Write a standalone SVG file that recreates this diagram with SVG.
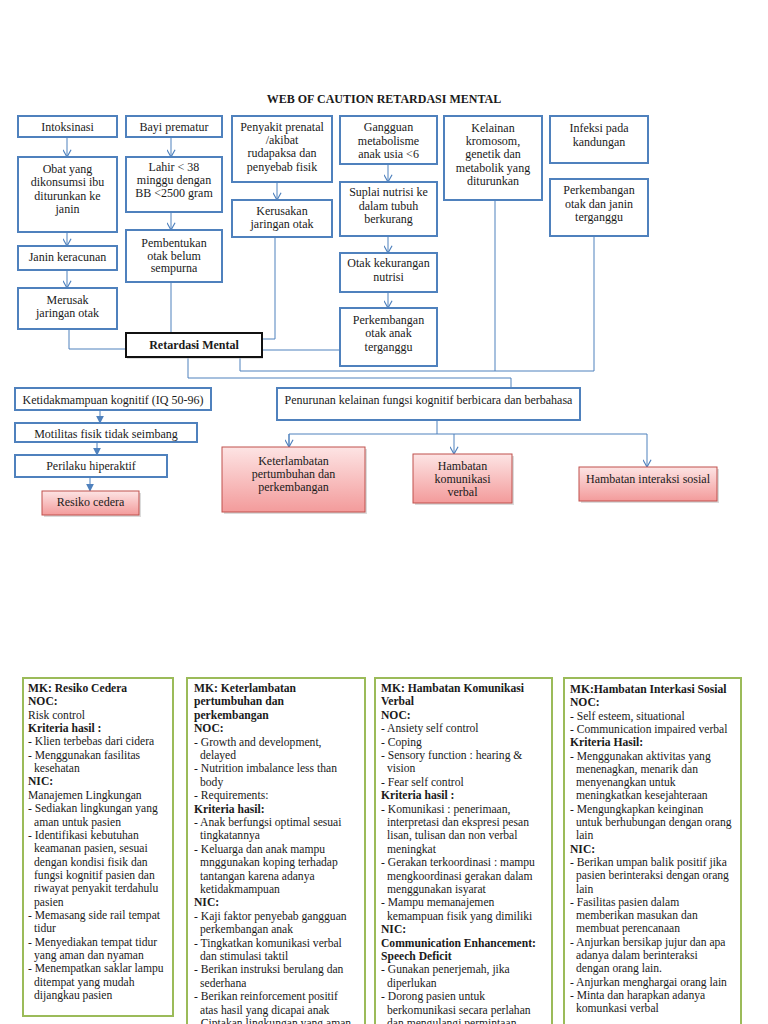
<svg xmlns="http://www.w3.org/2000/svg" width="768" height="1024" viewBox="0 0 768 1024">
<style>
text{font-family:"Liberation Serif","Times New Roman",serif;fill:#1a1a1a}
.t{font-size:12px;text-anchor:middle}
.b{font-weight:bold}
.n rect{fill:#fff;stroke:#4f81bd;stroke-width:2}
.p rect.f{fill:url(#pink);stroke:#c0504d;stroke-width:1}
.p rect.s{fill:#999;opacity:0.35}
.g rect{fill:#fff;stroke:#9bbb59;stroke-width:2}
.g text{font-size:11.6px}
#connectors path{fill:none;stroke:#4f81bd;stroke-width:1}
</style>
<defs>
<linearGradient id="pink" x1="0" y1="0" x2="0" y2="1">
<stop offset="0" stop-color="#fde4e4"/>
<stop offset="1" stop-color="#f39b9b"/>
</linearGradient>
<marker id="op" viewBox="0 0 10 10" refX="9" refY="5" markerWidth="9" markerHeight="9" orient="auto" markerUnits="userSpaceOnUse">
<path d="M1,0.5 L9,5 L1,9.5" fill="none" stroke="#4f81bd" stroke-width="1.3"/>
</marker>
<marker id="fl" viewBox="0 0 10 10" refX="9" refY="5" markerWidth="8" markerHeight="9" orient="auto" markerUnits="userSpaceOnUse">
<path d="M0,0 L10,5 L0,10 z" fill="#4f81bd"/>
</marker>
</defs>
<rect width="768" height="1024" fill="#fff"/>
<text x="384" y="103" class="t b" font-size="11.5">WEB OF CAUTION RETARDASI MENTAL</text>

<g id="connectors">
<path d="M67,137 V157" marker-end="url(#op)"/>
<path d="M67,232 V246" marker-end="url(#op)"/>
<path d="M67,270 V288" marker-end="url(#op)"/>
<path d="M69,329 V349 H126"/>
<path d="M171,137 V157" marker-end="url(#op)"/>
<path d="M171,212 V230" marker-end="url(#op)"/>
<path d="M171,282 V333"/>
<path d="M277,182 V200" marker-end="url(#op)"/>
<path d="M275,237 V339 H262"/>
<path d="M388,164 V182" marker-end="url(#op)"/>
<path d="M388,236 V253" marker-end="url(#op)"/>
<path d="M388,292 V308" marker-end="url(#op)"/>
<path d="M340,350 H262"/>
<path d="M495,200 V371"/>
<path d="M594,236 V371"/>
<path d="M240,357 V371 H594"/>
<path d="M188,357 V378 H511 V388"/>
<path d="M100,410 V423" marker-end="url(#fl)"/>
<path d="M97,442 V455" marker-end="url(#fl)"/>
<path d="M90,477 V491" marker-end="url(#fl)"/>
<path d="M437,420 V434"/>
<path d="M289,447 V434 H647 V467" marker-end="url(#op)"/>
<path d="M289,434 V447" marker-end="url(#op)"/>
<path d="M454,434 V454" marker-end="url(#op)"/>
</g>

<g id="intoksinasi" class="n"><rect x="18" y="116" width="99" height="21"/><text class="t" x="67.5" y="131">Intoksinasi</text></g>
<g id="bayi-prematur" class="n"><rect x="126" y="116" width="96" height="21"/><text class="t" x="174" y="131">Bayi prematur</text></g>
<g id="penyakit-prenatal" class="n"><rect x="232" y="116" width="100" height="66"/><text class="t" x="282" y="131">Penyakit prenatal<tspan x="282" dy="13.2">/akibat</tspan><tspan x="282" dy="13.2">rudapaksa dan</tspan><tspan x="282" dy="13.2">penyebab fisik</tspan></text></g>
<g id="gangguan-metabolisme" class="n"><rect x="340" y="116" width="97" height="48"/><text class="t" x="388.5" y="131">Gangguan<tspan x="388.5" dy="13.5">metabolisme</tspan><tspan x="388.5" dy="13.5">anak usia &lt;6</tspan></text></g>
<g id="kelainan-kromosom" class="n"><rect x="444" y="116" width="98" height="84"/><text class="t" x="493" y="132">Kelainan<tspan x="493" dy="13.2">kromosom,</tspan><tspan x="493" dy="13.2">genetik dan</tspan><tspan x="493" dy="13.2">metabolik yang</tspan><tspan x="493" dy="13.2">diturunkan</tspan></text></g>
<g id="infeksi" class="n"><rect x="550" y="116" width="98" height="47"/><text class="t" x="599" y="132">Infeksi pada<tspan x="599" dy="13.5">kandungan</tspan></text></g>
<g id="perkembangan-otak-janin" class="n"><rect x="550" y="179" width="98" height="57"/><text class="t" x="599" y="194">Perkembangan<tspan x="599" dy="13.5">otak dan janin</tspan><tspan x="599" dy="13.5">terganggu</tspan></text></g>
<g id="obat" class="n"><rect x="18" y="157" width="99" height="75"/><text class="t" x="67.5" y="173">Obat yang<tspan x="67.5" dy="13.3">dikonsumsi ibu</tspan><tspan x="67.5" dy="13.3">diturunkan ke</tspan><tspan x="67.5" dy="13.3">janin</tspan></text></g>
<g id="lahir" class="n"><rect x="126" y="157" width="96" height="55"/><text class="t" x="174" y="171">Lahir &lt; 38<tspan x="174" dy="13">minggu dengan</tspan><tspan x="174" dy="13">BB &lt;2500 gram</tspan></text></g>
<g id="kerusakan" class="n"><rect x="232" y="200" width="100" height="37"/><text class="t" x="282" y="215">Kerusakan<tspan x="282" dy="13">jaringan otak</tspan></text></g>
<g id="suplai" class="n"><rect x="340" y="182" width="97" height="54"/><text class="t" x="388.5" y="196">Suplai nutrisi ke<tspan x="388.5" dy="13.5">dalam tubuh</tspan><tspan x="388.5" dy="13.5">berkurang</tspan></text></g>
<g id="janin-keracunan" class="n"><rect x="18" y="246" width="99" height="24"/><text class="t" x="67.5" y="261">Janin keracunan</text></g>
<g id="pembentukan" class="n"><rect x="126" y="230" width="96" height="52"/><text class="t" x="174" y="247">Pembentukan<tspan x="174" dy="12.7">otak belum</tspan><tspan x="174" dy="12.7">sempurna</tspan></text></g>
<g id="otak-kekurangan" class="n"><rect x="340" y="253" width="97" height="39"/><text class="t" x="388.5" y="267">Otak kekurangan<tspan x="388.5" dy="13.5">nutrisi</tspan></text></g>
<g id="merusak" class="n"><rect x="18" y="288" width="99" height="41"/><text class="t" x="67.5" y="304">Merusak<tspan x="67.5" dy="13">jaringan otak</tspan></text></g>
<g id="perkembangan-otak-anak" class="n"><rect x="340" y="308" width="97" height="58"/><text class="t" x="388.5" y="324">Perkembangan<tspan x="388.5" dy="13.4">otak anak</tspan><tspan x="388.5" dy="13.4">terganggu</tspan></text></g>
<g id="retardasi-mental"><rect x="127" y="335" width="136" height="24" fill="#bbb" opacity="0.5"/><rect x="126" y="333" width="136" height="24" fill="#fff" stroke="#111" stroke-width="2"/><text class="t b" x="194" y="349">Retardasi Mental</text></g>

<g id="ketidakmampuan" class="n"><rect x="15" y="388" width="196" height="22"/><text class="t" x="113" y="404">Ketidakmampuan kognitif (IQ 50-96)</text></g>
<g id="penurunan" class="n"><rect x="277" y="388" width="303" height="32"/><text class="t" x="428.5" y="404">Penurunan kelainan fungsi kognitif berbicara dan berbahasa</text></g>
<g id="motilitas" class="n"><rect x="15" y="423" width="182" height="19"/><text class="t" x="106" y="438">Motilitas fisik tidak seimbang</text></g>
<g id="perilaku" class="n"><rect x="15" y="455" width="152" height="22"/><text class="t" x="91" y="470">Perilaku hiperaktif</text></g>
<g id="resiko-cedera" class="p"><rect class="s" x="44" y="493" width="97" height="24"/><rect class="f" x="42" y="491" width="97" height="24"/><text class="t" x="90.5" y="506">Resiko cedera</text></g>
<g id="keterlambatan" class="p"><rect class="s" x="224" y="449" width="143" height="65"/><rect class="f" x="222" y="447" width="143" height="65"/><text class="t" x="293.5" y="465">Keterlambatan<tspan x="293.5" dy="13.2">pertumbuhan dan</tspan><tspan x="293.5" dy="13.2">perkembangan</tspan></text></g>
<g id="hambatan-komunikasi" class="p"><rect class="s" x="415" y="456" width="99" height="49"/><rect class="f" x="413" y="454" width="99" height="49"/><text class="t" x="462.5" y="470">Hambatan<tspan x="462.5" dy="13.2">komunikasi</tspan><tspan x="462.5" dy="13.2">verbal</tspan></text></g>
<g id="hambatan-interaksi" class="p"><rect class="s" x="581" y="469" width="138" height="34"/><rect class="f" x="579" y="467" width="138" height="34"/><text class="t" x="648" y="483">Hambatan interaksi sosial</text></g>

<g id="mk-resiko-cedera" class="g"><rect x="23" y="678" width="150" height="338"/>
<text x="28" y="692"><tspan class="b">MK: Resiko Cedera</tspan>
<tspan x="28" dy="13.35" class="b">NOC:</tspan>
<tspan x="28" dy="13.35">Risk control</tspan>
<tspan x="28" dy="13.35" class="b">Kriteria hasil :</tspan>
<tspan x="28" dy="13.35">- Klien terbebas dari cidera</tspan>
<tspan x="28" dy="13.35">- Menggunakan fasilitas</tspan>
<tspan x="34" dy="13.35">kesehatan</tspan>
<tspan x="28" dy="13.35" class="b">NIC:</tspan>
<tspan x="28" dy="13.35">Manajemen Lingkungan</tspan>
<tspan x="28" dy="13.35">- Sediakan lingkungan yang</tspan>
<tspan x="34" dy="13.35">aman untuk  pasien</tspan>
<tspan x="28" dy="13.35">- Identifikasi kebutuhan</tspan>
<tspan x="34" dy="13.35">keamanan pasien, sesuai</tspan>
<tspan x="34" dy="13.35">dengan kondisi fisik dan</tspan>
<tspan x="34" dy="13.35">fungsi kognitif pasien dan</tspan>
<tspan x="34" dy="13.35">riwayat penyakit terdahulu</tspan>
<tspan x="34" dy="13.35">pasien</tspan>
<tspan x="28" dy="13.35">- Memasang side rail tempat</tspan>
<tspan x="34" dy="13.35">tidur</tspan>
<tspan x="28" dy="13.35">- Menyediakan tempat tidur</tspan>
<tspan x="34" dy="13.35">yang aman dan nyaman</tspan>
<tspan x="28" dy="13.35">- Menempatkan saklar lampu</tspan>
<tspan x="34" dy="13.35">ditempat yang mudah</tspan>
<tspan x="34" dy="13.35">dijangkau pasien</tspan></text></g>

<g id="mk-keterlambatan" class="g"><rect x="187" y="678" width="178" height="360"/>
<text x="194" y="692"><tspan class="b">MK: Keterlambatan</tspan>
<tspan x="194" dy="13.4" class="b">pertumbuhan dan</tspan>
<tspan x="194" dy="13.4" class="b">perkembangan</tspan>
<tspan x="194" dy="13.4" class="b">NOC:</tspan>
<tspan x="194" dy="13.4">- Growth and development,</tspan>
<tspan x="200" dy="13.4">delayed</tspan>
<tspan x="194" dy="13.4">- Nutrition imbalance less than</tspan>
<tspan x="200" dy="13.4">body</tspan>
<tspan x="194" dy="13.4">- Requirements:</tspan>
<tspan x="194" dy="13.4" class="b">Kriteria hasil:</tspan>
<tspan x="194" dy="13.4">- Anak berfungsi optimal sesuai</tspan>
<tspan x="200" dy="13.4">tingkatannya</tspan>
<tspan x="194" dy="13.4">- Keluarga dan anak mampu</tspan>
<tspan x="200" dy="13.4">mnggunakan koping terhadap</tspan>
<tspan x="200" dy="13.4">tantangan karena adanya</tspan>
<tspan x="200" dy="13.4">ketidakmampuan</tspan>
<tspan x="194" dy="13.4" class="b">NIC:</tspan>
<tspan x="194" dy="13.4">- Kaji faktor penyebab gangguan</tspan>
<tspan x="200" dy="13.4">perkembangan anak</tspan>
<tspan x="194" dy="13.4">- Tingkatkan komunikasi verbal</tspan>
<tspan x="200" dy="13.4">dan stimulasi taktil</tspan>
<tspan x="194" dy="13.4">- Berikan instruksi berulang dan</tspan>
<tspan x="200" dy="13.4">sederhana</tspan>
<tspan x="194" dy="13.4">- Berikan reinforcement positif</tspan>
<tspan x="200" dy="13.4">atas hasil yang dicapai anak</tspan>
<tspan x="194" dy="13.4">- Ciptakan lingkungan yang aman</tspan></text></g>

<g id="mk-hambatan-komunikasi" class="g"><rect x="375" y="678" width="177" height="360"/>
<text x="381" y="692"><tspan class="b">MK: Hambatan Komunikasi</tspan>
<tspan x="381" dy="13.4" class="b">Verbal</tspan>
<tspan x="381" dy="13.4" class="b">NOC:</tspan>
<tspan x="381" dy="13.4">- Ansiety self control</tspan>
<tspan x="381" dy="13.4">- Coping</tspan>
<tspan x="381" dy="13.4">- Sensory function : hearing &amp;</tspan>
<tspan x="387" dy="13.4">vision</tspan>
<tspan x="381" dy="13.4">- Fear self control</tspan>
<tspan x="381" dy="13.4" class="b">Kriteria hasil :</tspan>
<tspan x="381" dy="13.4">- Komunikasi : penerimaan,</tspan>
<tspan x="387" dy="13.4">interpretasi dan ekspresi pesan</tspan>
<tspan x="387" dy="13.4">lisan, tulisan dan non verbal</tspan>
<tspan x="387" dy="13.4">meningkat</tspan>
<tspan x="381" dy="13.4">- Gerakan terkoordinasi : mampu</tspan>
<tspan x="387" dy="13.4">mengkoordinasi gerakan dalam</tspan>
<tspan x="387" dy="13.4">menggunakan isyarat</tspan>
<tspan x="381" dy="13.4">- Mampu memanajemen</tspan>
<tspan x="387" dy="13.4">kemampuan fisik yang dimiliki</tspan>
<tspan x="381" dy="13.4" class="b">NIC:</tspan>
<tspan x="381" dy="13.4" class="b">Communication Enhancement:</tspan>
<tspan x="381" dy="13.4" class="b">Speech Deficit</tspan>
<tspan x="381" dy="13.4">- Gunakan penerjemah, jika</tspan>
<tspan x="387" dy="13.4">diperlukan</tspan>
<tspan x="381" dy="13.4">- Dorong pasien untuk</tspan>
<tspan x="387" dy="13.4">berkomunikasi secara perlahan</tspan>
<tspan x="387" dy="13.4">dan mengulangi permintaan</tspan></text></g>

<g id="mk-hambatan-interaksi" class="g"><rect x="564" y="678" width="177" height="360"/>
<text x="570" y="693"><tspan class="b">MK:Hambatan Interkasi Sosial</tspan>
<tspan x="570" dy="13.3" class="b">NOC:</tspan>
<tspan x="570" dy="13.3">- Self esteem, situational</tspan>
<tspan x="570" dy="13.3">- Communication impaired verbal</tspan>
<tspan x="570" dy="13.3" class="b">Kriteria Hasil:</tspan>
<tspan x="570" dy="13.3">- Menggunakan aktivitas yang</tspan>
<tspan x="576" dy="13.3">menenagkan, menarik dan</tspan>
<tspan x="576" dy="13.3">menyenangkan untuk</tspan>
<tspan x="576" dy="13.3">meningkatkan kesejahteraan</tspan>
<tspan x="570" dy="13.3">- Mengungkapkan keinginan</tspan>
<tspan x="576" dy="13.3">untuk berhubungan dengan orang</tspan>
<tspan x="576" dy="13.3">lain</tspan>
<tspan x="570" dy="13.3" class="b">NIC:</tspan>
<tspan x="570" dy="13.3">- Berikan umpan balik positif jika</tspan>
<tspan x="576" dy="13.3">pasien berinteraksi dengan orang</tspan>
<tspan x="576" dy="13.3">lain</tspan>
<tspan x="570" dy="13.3">- Fasilitas pasien dalam</tspan>
<tspan x="576" dy="13.3">memberikan masukan dan</tspan>
<tspan x="576" dy="13.3">membuat perencanaan</tspan>
<tspan x="570" dy="13.3">- Anjurkan bersikap jujur dan apa</tspan>
<tspan x="576" dy="13.3">adanya dalam berinteraksi</tspan>
<tspan x="576" dy="13.3">dengan orang lain.</tspan>
<tspan x="570" dy="13.3">- Anjurkan menghargai orang lain</tspan>
<tspan x="570" dy="13.3">- Minta dan harapkan adanya</tspan>
<tspan x="576" dy="13.3">komunkasi verbal</tspan></text></g>
</svg>
